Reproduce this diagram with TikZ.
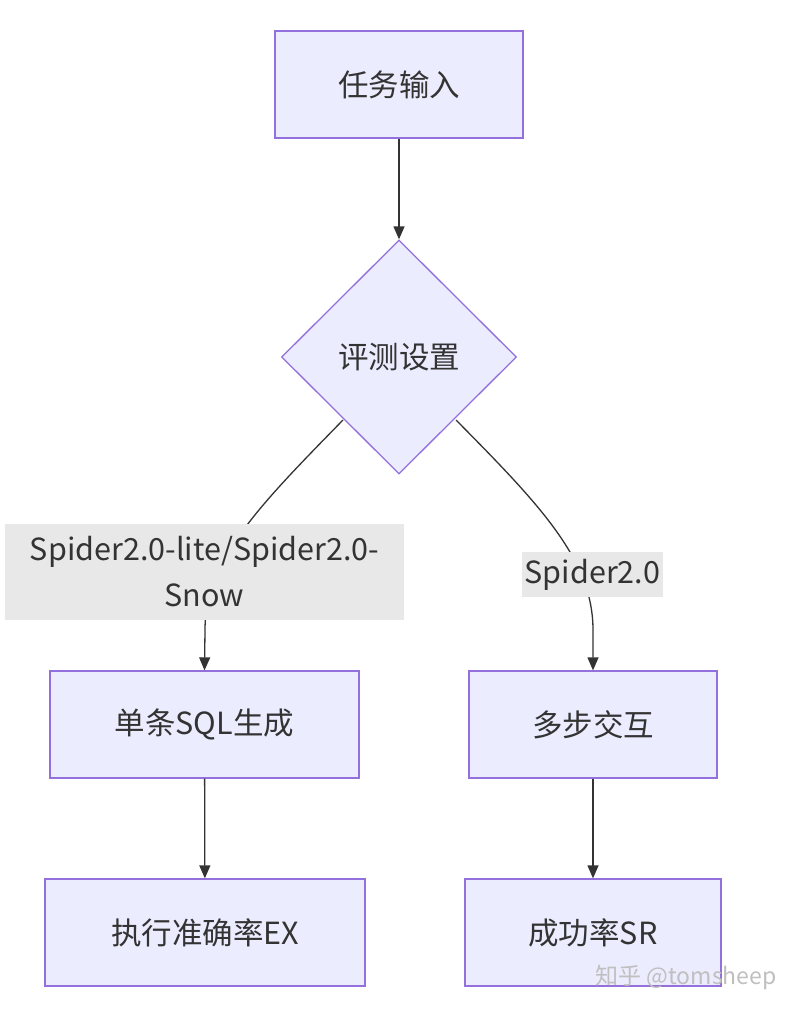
\documentclass[tikz,border=0pt]{standalone}
\usepackage{fontspec}
\setmainfont{Noto Sans CJK SC}
\usetikzlibrary{shapes.geometric,arrows.meta}
\definecolor{nfill}{HTML}{ECECFF}
\definecolor{nline}{HTML}{9370DB}
\definecolor{ntext}{HTML}{333333}
\definecolor{lfill}{HTML}{E8E8E8}
\begin{document}
\begin{tikzpicture}[x=1pt,y=-1pt,
  box/.style={draw=nline,fill=nfill,line width=1.3pt,text=ntext,font=\fontsize{30.5}{36}\selectfont,inner sep=0pt},
  lab/.style={fill=lfill,text=ntext,font=\fontsize{30.5}{46}\selectfont,inner sep=0pt,align=center},
  conn/.style={draw=ntext,line width=1.3pt,-{Triangle[length=13pt,width=11pt]}}]
\useasboundingbox (0,0) rectangle (800,1014);
\node[box,minimum width=248pt,minimum height=107pt] (a) at (399,84.5) {任务输入};
\node[box,diamond,minimum width=235pt,minimum height=234pt] (d) at (399,357) {评测设置};
\node[box,minimum width=309pt,minimum height=107pt] (s) at (204.5,724.5) {单条SQL生成};
\node[box,minimum width=248pt,minimum height=107pt] (m) at (593,724.5) {多步交互};
\node[box,minimum width=320pt,minimum height=107pt] (e) at (205,932.5) {执行准确率EX};
\node[box,minimum width=256pt,minimum height=107pt] (r) at (593,932.5) {成功率SR};
\coordinate (dl) at (343,420);
\coordinate (dr) at (456,420);
\draw[conn] (a) -- (d.north);
\draw[conn] (dl) .. controls (260,505) and (205,560) .. (205,630) -- (s.north);
\draw[conn] (dr) .. controls (540,505) and (593,560) .. (593,630) -- (m.north);
\draw[conn] (s) -- (e);
\draw[conn] (m) -- (r);
\node[lab,minimum width=399pt,minimum height=96pt] (l1) at (204.5,572) {Spider2.0-lite/Spider2.0-\\Snow};
\node[lab,minimum width=141pt,minimum height=45pt] (l2) at (592.5,574.5) {Spider2.0};
\node[text=black!25,font=\fontsize{23}{26}\selectfont,anchor=east] (w) at (780,977) {知乎 @tomsheep};
\end{tikzpicture}
\end{document}
